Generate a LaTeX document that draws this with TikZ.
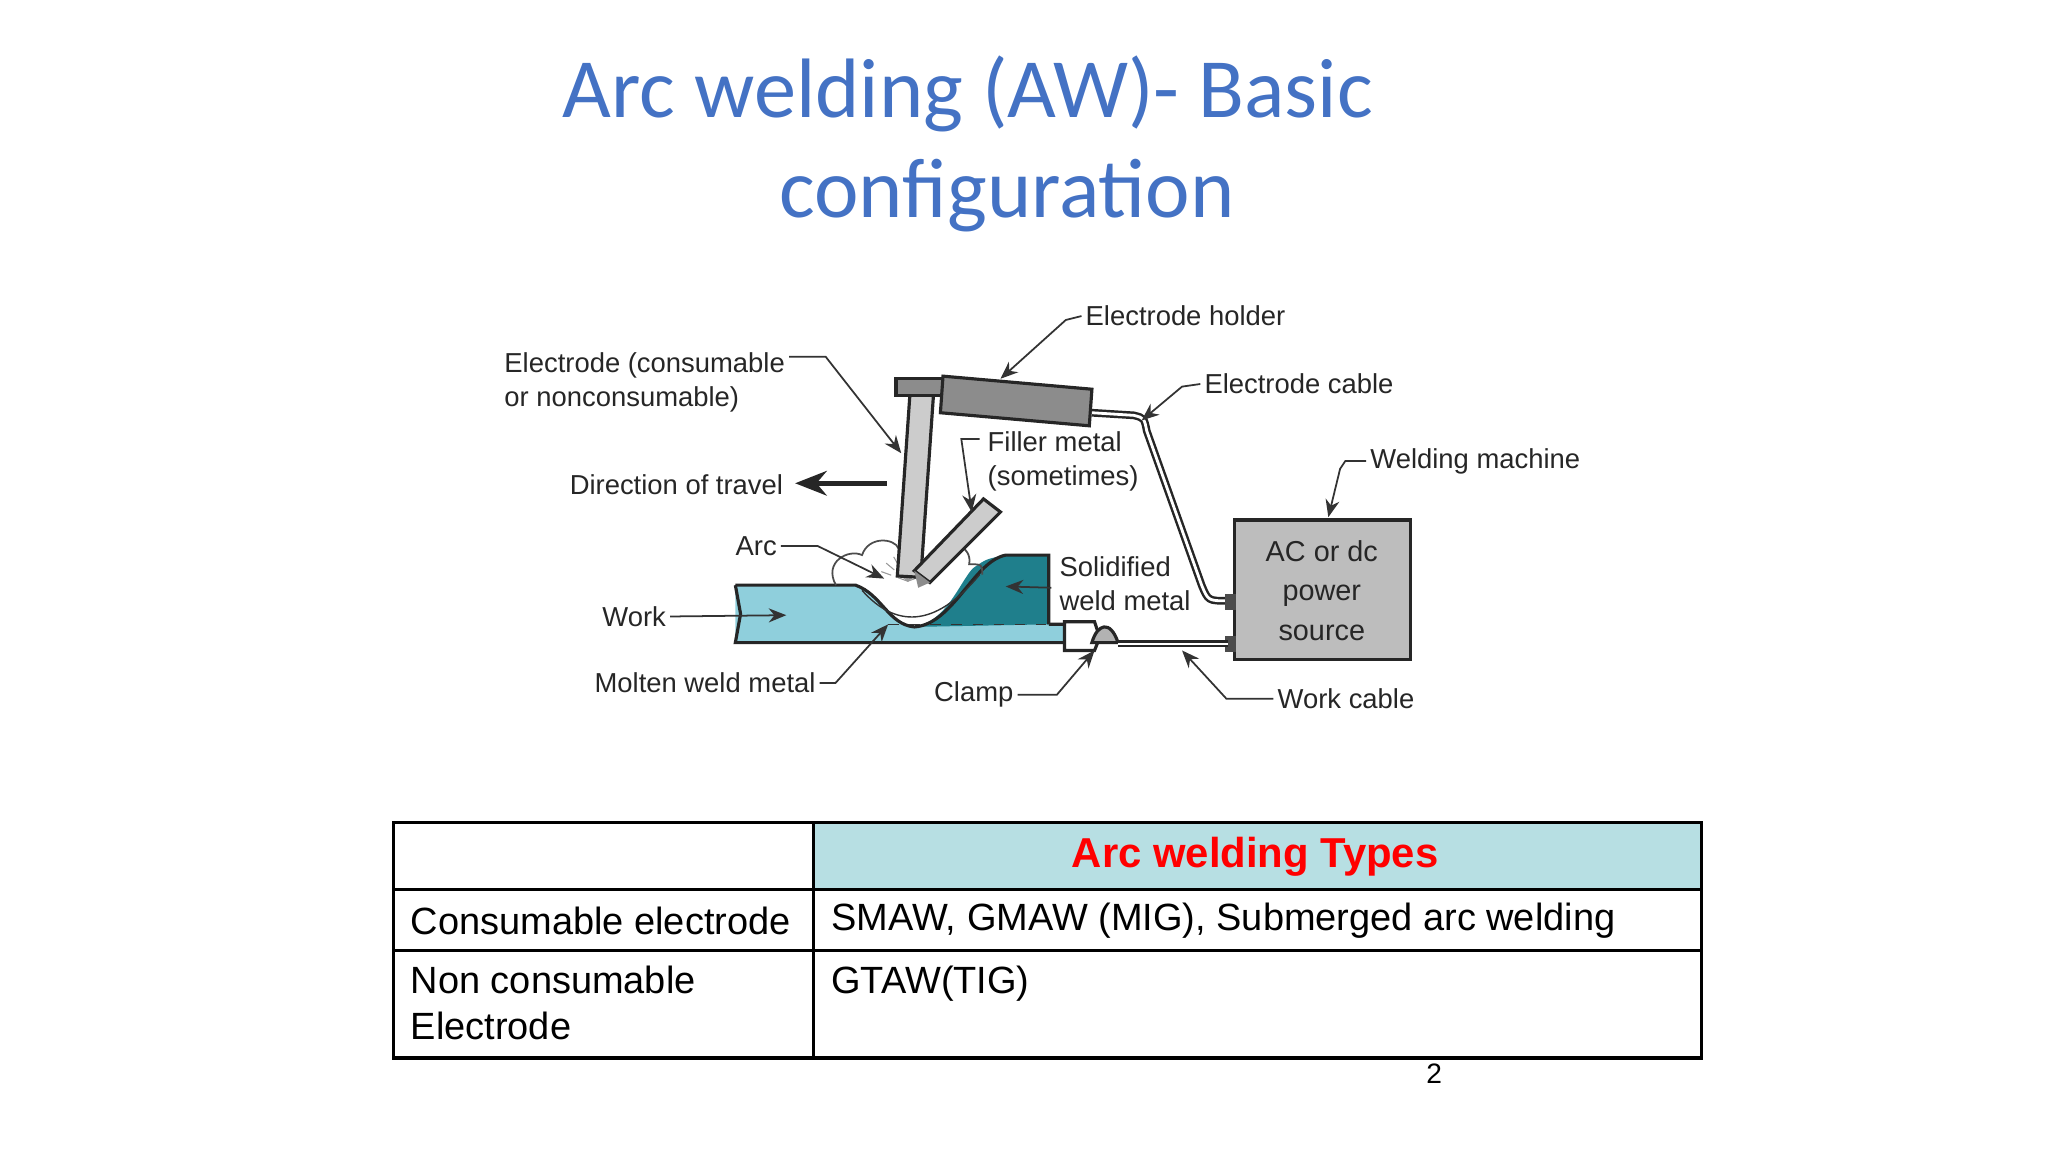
\documentclass[tikz,border=0pt]{standalone}
\usepackage{fontspec}
\setmainfont{Liberation Sans}
\newfontfamily\titlefont{Carlito}
\usetikzlibrary{positioning,arrows.meta,calc}
\definecolor{titleblue}{HTML}{4472C4}
\definecolor{worklight}{HTML}{8FCFDC}
\definecolor{workdark}{HTML}{1F7F8C}
\definecolor{headcell}{HTML}{B7DFE3}
\definecolor{machgray}{HTML}{BDBDBD}
\begin{document}
\begin{tikzpicture}[x=0.013061cm,y=-0.013061cm]
\tikzset{
  lbl/.style={font=\fontsize{7.8}{9.6}\selectfont, text=black!85, inner sep=1pt, align=left},
  lead/.style={black!80, line width=0.5pt, -{Stealth[length=5pt,width=4pt]}},
  cell/.style={font=\fontsize{10.8}{13}\selectfont, anchor=west, align=left, inner sep=0pt},
  part/.style={draw=black!85, line width=0.9pt},
  title/.style={text=titleblue, font=\titlefont\fontsize{24}{29}\selectfont}
}
\useasboundingbox (0,0) rectangle (1568,882);
% title
\node[title] (t1) at (741,72) {Arc welding (AW)- Basic};
\node[title] (t2) at (771,150) {configuration};
% work piece
\fill[worklight] (563,448) -- (655,448) .. controls (675,455) and (680,478) .. (700,480)
  .. controls (730,478) and (745,430) .. (770,425) -- (803,425) -- (803,478) -- (820,478)
  -- (820,492) -- (563,492) -- cycle;
\fill[workdark] (745,435) .. controls (755,428) .. (770,425) -- (803,425) -- (803,478) -- (700,480)
  .. controls (725,476) and (735,445) .. (745,435);
\draw[part] (563,448) -- (655,448) .. controls (675,455) and (680,478) .. (700,480)
  .. controls (730,478) and (745,430) .. (770,425) -- (803,425) -- (803,478);
\draw[part] (563,448) -- (567,470) -- (563,492) -- (820,492) -- (820,478) -- (803,478);
\draw[black!80, dashed] (680,478) -- (803,478);
\draw[black!80] (660,452) .. controls (685,480) and (715,482) .. (750,440);
% arc cloud
\draw[black!70, line width=0.5pt] (640,448) .. controls (630,430) and (650,420) .. (660,425)
  .. controls (665,410) and (685,412) .. (688,420);
\draw[black!70, line width=0.5pt] (718,425) .. controls (725,410) and (745,418) .. (742,432)
  .. controls (752,432) .. (752,440);
\foreach \a in {200,220,...,340} \draw[black!40, densely dashed, line width=0.3pt] (695,445) -- ++(\a:22);
% electrode
\draw[part, fill=black!20] (697,297) -- (715,298) -- (705,442) -- (687,441) -- cycle;
\draw[part, fill=black!45] (686,290) rectangle (722,303);
\draw[part, fill=black!45] (722,288) -- (836,298) -- (834,326) -- (720,316) -- cycle;
% filler rod
\draw[part, fill=black!20] (753,382) -- (766,392) -- (712,446) -- (700,437) -- cycle;
\fill[black!45] (700,437) -- (712,446) -- (703,450) -- cycle;
% electrode cable
\draw[black!85, line width=2.2pt] (836,316) -- (868,318) .. controls (876,320) .. (878,330)
  -- (920,448) .. controls (925,460) .. (940,460);
\draw[white, line width=0.8pt] (836,316) -- (868,318) .. controls (876,320) .. (878,330)
  -- (920,448) .. controls (925,460) .. (940,460);
% power source
\fill[machgray, draw=black!85, line width=1pt] (945,398) rectangle (1080,505);
\node[align=center, font=\fontsize{8.2}{11.2}\selectfont, text=black!85] (srct) at (1012,452) {AC or dc\\power\\source};
\fill[black!70] (938,455) rectangle (946,467);
\fill[black!70] (938,487) rectangle (946,499);
% clamp and work cable
\draw[part, fill=white] (815,476) -- (838,476) -- (842,488) -- (838,498) -- (815,498) -- cycle;
\draw[part, fill=black!30] (836,492) .. controls (840,478) and (850,474) .. (856,492) -- cycle;
\draw[black!85, line width=2pt] (856,493) -- (940,493);
\draw[white, line width=0.6pt] (856,493) -- (940,493);
% labels
\node[lbl, anchor=west] (holder) at (828,242) {Electrode holder};
\node[lbl, anchor=west] (electrode) at (383,293) {Electrode (consumable\\or nonconsumable)};
\node[lbl, anchor=west] (ecable) at (919,294) {Electrode cable};
\node[lbl, anchor=west] (filler) at (753,353) {Filler metal\\(sometimes)};
\node[lbl, anchor=west] (machine) at (1046,353) {Welding machine};
\node[lbl, anchor=west] (travel) at (433,371) {Direction of travel};
\node[lbl, anchor=west] (arc) at (560,418) {Arc};
\node[lbl, anchor=west] (work) at (458,472) {Work};
\node[lbl, anchor=west] (solid) at (808,447) {Solidified\\weld metal};
\node[lbl, anchor=west] (molten) at (452,523) {Molten weld metal};
\node[lbl, anchor=west] (clamp) at (712,532) {Clamp};
\node[lbl, anchor=west] (wcable) at (975,535) {Work cable};
\coordinate (holderT) at (766,290);
\coordinate (electrodeT) at (690,347);
\coordinate (ecableT) at (874,322);
\coordinate (fillerT) at (744,392);
\coordinate (machineT) at (1017,396);
\coordinate (arcT) at (677,443);
\coordinate (workT) at (602,471);
\coordinate (solidT) at (770,449);
\coordinate (moltenT) at (680,478);
\coordinate (clampT) at (838,498);
\coordinate (wcableT) at (905,498);
\draw[lead] (holder.west) -- ++(-12,3) -- (holderT);
\draw[lead] (electrode.north east) ++(0,6) -- ++(28,0) -- (electrodeT);
\draw[lead] (ecable.west) -- ++(-14,2) -- (ecableT);
\draw[lead] ($(filler.north west)+(-3,9)$) -- ++(-14,0) -- (fillerT);
\draw[lead] (machine.west) -- ++(-16,0) -- ++(-4,6) -- (machineT);
\draw[black!85, line width=1.4pt, -{Stealth[length=9pt,width=7pt]}] ($(travel.east)+(76,-1)$) coordinate (travelS) -- ($(travel.east)+(6,-1)$);
\draw[lead] (arc.east) -- ++(28,0) -- (arcT);
\draw[lead] (work.east) -- (workT);
\draw[lead] (solid.west) ++(-3,3) -- (solidT);
\draw[lead] (molten.east) -- ++(12,0) -- (moltenT);
\draw[lead] (clamp.east) -- ++(30,0) -- (clampT);
\draw[lead] (wcable.west) -- ++(-36,0) -- (wcableT);
% table
\fill[headcell] (623,630) rectangle (1303,681);
\draw[black, line width=0.9pt] (301,630) rectangle (1303,810);
\draw[black, line width=0.9pt] (301,681) -- (1303,681) (301,728) -- (1303,728) (623,630) -- (623,810);
\node[font=\bfseries\fontsize{11.9}{14}\selectfont, text=red] (head) at (961,656) {Arc welding Types};
\node[cell] (r1a) at (314,705) {Consumable electrode};
\node[cell] (r1b) at (636,705) {SMAW, GMAW (MIG), Submerged arc welding};
\node[cell, anchor=north west] (r2a) at (314,739) {Non consumable\\Electrode};
\node[cell, anchor=north west] (r2b) at (636,739) {GTAW(TIG)};
\node[font=\fontsize{8}{10}\selectfont] (page) at (1098,822) {2};
\end{tikzpicture}
\end{document}
